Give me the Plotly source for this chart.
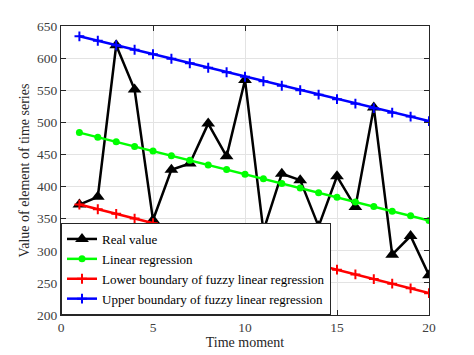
import plotly.graph_objects as go

t = list(range(1, 21))
real_value = [372, 384, 620, 551, 348, 426, 436, 498, 447, 566,
              331, 420, 410, 338, 416, 368, 523, 294, 323, 262]
linear_reg = [484, 476.8, 469.6, 462.4, 455.2, 448, 440.8, 433.6, 426.4, 419.2,
              412, 404.8, 397.6, 390.4, 383.2, 376, 368.8, 361.6, 354.4, 347]
lower_bound = [372, 364.7, 357.5, 350.2, 343, 335.7, 328.5, 321.2, 314, 306.7,
               299.5, 292.2, 285, 277.7, 270.5, 263.2, 256, 248.7, 241.5, 234]
upper_bound = [634, 627, 620, 613, 606, 599, 592, 585, 578, 571,
               564, 557, 550, 543, 536, 529, 522, 515, 509, 502]

x_ticks = [0, 5, 10, 15, 20]
y_ticks = [200, 250, 300, 350, 400, 450, 500, 550, 600, 650]

font_family = "Liberation Serif, Times New Roman, serif"

fig = go.Figure()
fig.add_trace(go.Scatter(x=t, y=real_value, name="Real value", mode="lines+markers",
                         line=dict(color="black", width=2.5),
                         marker=dict(symbol="triangle-up", size=12, color="black")))
fig.add_trace(go.Scatter(x=t, y=linear_reg, name="Linear regression", mode="lines+markers",
                         line=dict(color="#00ff00", width=2.5),
                         marker=dict(symbol="circle", size=7, color="#00ff00")))
fig.add_trace(go.Scatter(x=t, y=lower_bound, name="Lower boundary of fuzzy linear regression",
                         mode="lines+markers",
                         line=dict(color="#ff0000", width=2.5),
                         marker=dict(symbol="cross-thin", size=7, color="#ff0000",
                                     line=dict(color="#ff0000", width=2))))
fig.add_trace(go.Scatter(x=t, y=upper_bound, name="Upper boundary of fuzzy linear regression",
                         mode="lines+markers",
                         line=dict(color="#0000ff", width=2.5),
                         marker=dict(symbol="cross-thin", size=7, color="#0000ff",
                                     line=dict(color="#0000ff", width=2))))

axis_common = dict(showline=True, linecolor="#262626", linewidth=1, mirror="ticks",
                   ticks="inside", ticklen=5, tickcolor="#262626", automargin=False,
                   showgrid=True, gridcolor="#e3e3e3", gridwidth=1, zeroline=False,
                   tickfont=dict(family=font_family, size=13.5, color="#404040"))

fig.update_xaxes(range=[0, 20], tickvals=x_ticks,
                 title=dict(text="Time moment", font=dict(family=font_family, size=14, color="#262626"),
                            standoff=2),
                 **axis_common)
fig.update_yaxes(range=[200, 650], tickvals=y_ticks,
                 title=dict(text="Value of element of time series",
                            font=dict(family=font_family, size=14, color="#262626"),
                            standoff=4),
                 **axis_common)

fig.update_layout(
    width=474, height=355,
    margin=dict(l=61, r=45, t=26, b=40),
    paper_bgcolor="white", plot_bgcolor="white",
    font=dict(family=font_family, color="#262626"),
    legend=dict(x=0, y=0, xanchor="left", yanchor="bottom",
                bgcolor="white", bordercolor="#262626", borderwidth=1,
                font=dict(family=font_family, size=13, color="black"),
                tracegroupgap=0, itemwidth=30),
    showlegend=True,
)

fig.write_html("out.html", config={"displayModeBar": False},
               post_script="document.body.style.margin='0px';")
